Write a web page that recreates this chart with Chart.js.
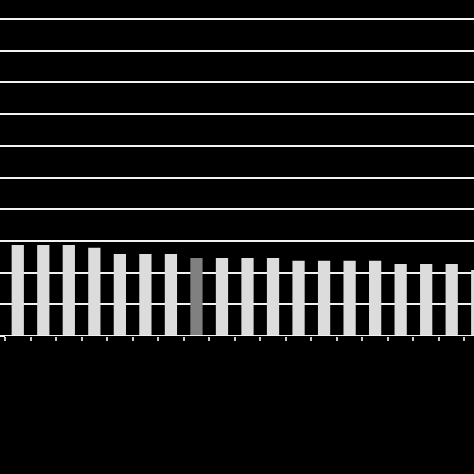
<!DOCTYPE html>
<html><head><style>html,body{margin:0;padding:0;background:#000;overflow:hidden;width:474px;height:474px}#w{width:490px;height:474px}</style>
<script src="https://cdn.jsdelivr.net/npm/chart.js@4"></script></head>
<body><div id="w"><canvas id="c"></canvas></div>
<script>
const categories = ["1","2","3","4","5","6","7","8","9","10","11","12","13","14","15","16","17","18","19"];
const values = [2.87,2.87,2.87,2.78,2.59,2.59,2.59,2.46,2.46,2.46,2.46,2.37,2.37,2.37,2.37,2.27,2.27,2.27,2.08];
const highlightIndex = 7;
const colors = values.map((v,i)=> i===highlightIndex ? '#808080' : '#dcdcdc');
new Chart(document.getElementById('c'), {
  type:'bar',
  data:{labels:categories, datasets:[{data:values, backgroundColor:colors, barPercentage:0.48, categoryPercentage:1}]},
  options:{responsive:true, maintainAspectRatio:false, animation:false,
    layout:{padding:{left:0,top:19,right:0,bottom:133}},
    plugins:{legend:{display:false},tooltip:{enabled:false}},
    scales:{
      x:{ticks:{display:false}, grid:{drawOnChartArea:false, offset:true, tickLength:5, color:'#cccccc', lineWidth:2}, border:{display:true,color:'#000'}},
      y:{min:0,max:10, ticks:{display:false,stepSize:1}, grid:{drawTicks:true, tickLength:5, color:'#f2f2f2', lineWidth:2}, border:{display:false}}
    }}
});
</script></body></html>
